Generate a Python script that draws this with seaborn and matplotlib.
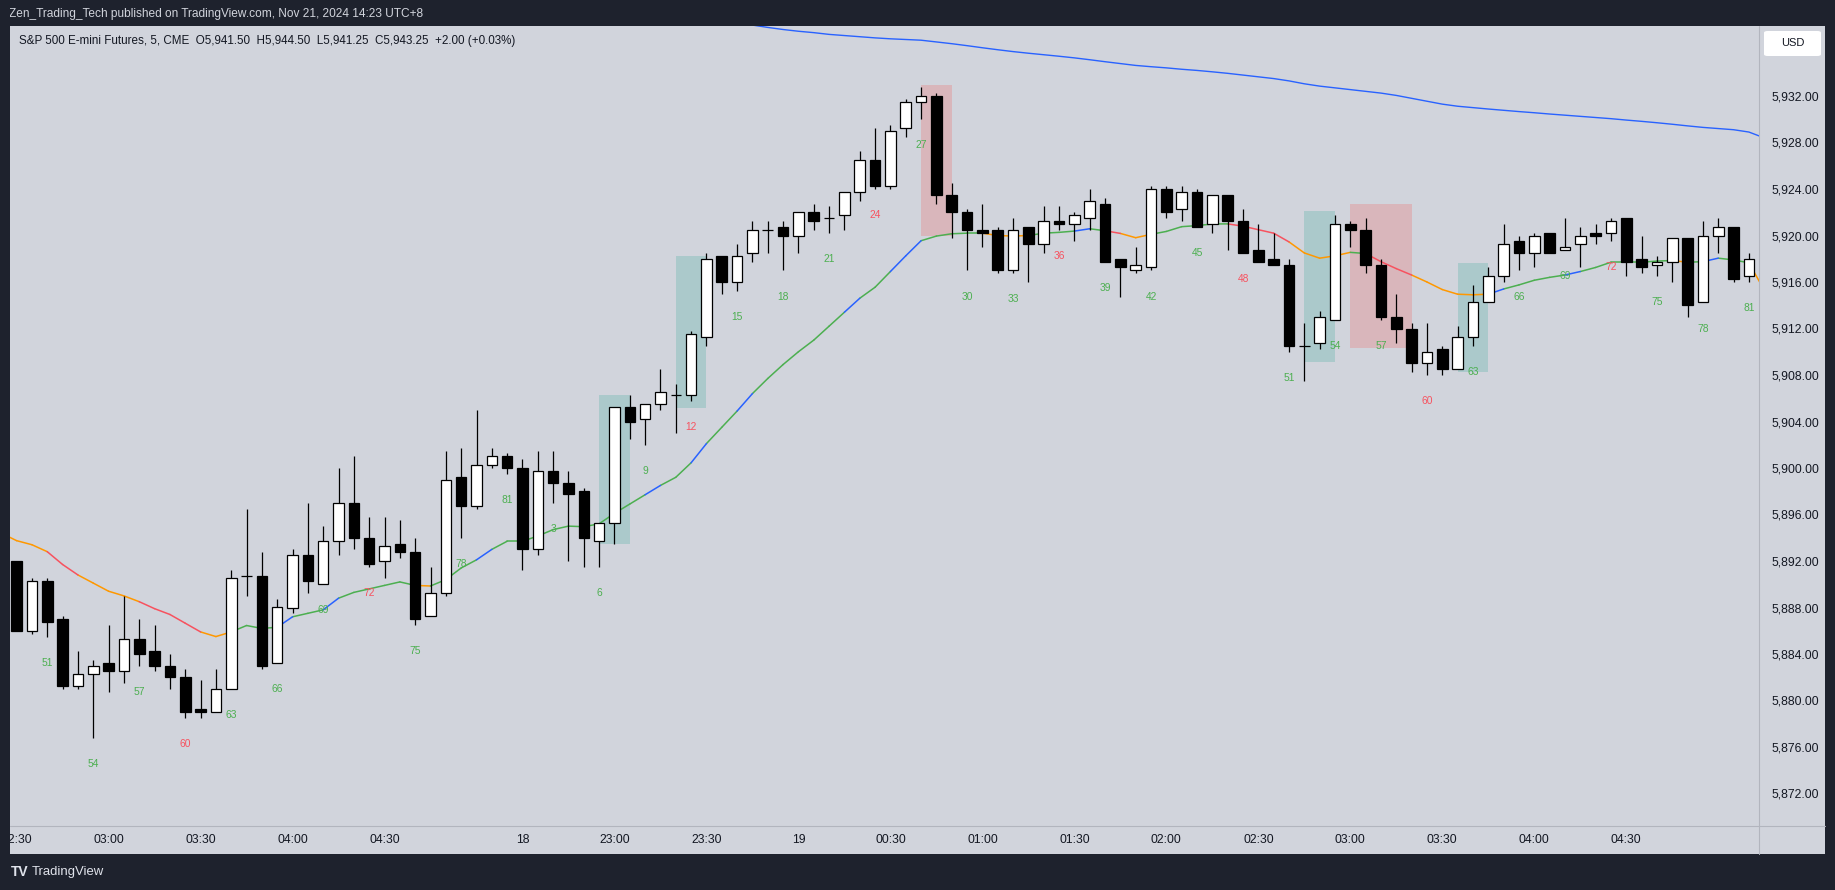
import matplotlib
matplotlib.use("Agg")
import matplotlib.pyplot as plt
from matplotlib.patches import Rectangle, FancyBboxPatch
from matplotlib.lines import Line2D
import numpy as np
import pandas as pd
import seaborn as sns

# ---------------- data ----------------
opens = [5892.0, 5886.0, 5890.25, 5887.0, 5881.25, 5882.25, 5883.25, 5882.5, 5885.25, 5884.25,
         5883.0, 5882.0, 5879.25, 5879.0, 5881.0, 5890.75, 5890.75, 5883.25, 5888.0, 5892.5,
         5890.0, 5893.75, 5897.0, 5894.0, 5892.0, 5893.5, 5892.75, 5887.25, 5889.25, 5899.25,
         5896.75, 5900.25, 5901.0, 5900.0, 5893.0, 5899.75, 5898.75, 5898.0, 5893.75, 5895.25,
         5905.25, 5904.25, 5905.5, 5906.25, 5906.25, 5911.25, 5918.25, 5916.0, 5918.5, 5920.5,
         5920.75, 5920.0, 5922.0, 5921.5, 5921.75, 5923.75, 5926.5, 5924.25, 5929.25, 5931.5,
         5932.0, 5923.5, 5922.0, 5920.5, 5920.5, 5917.0, 5920.75, 5919.25, 5921.25, 5921.0,
         5921.5, 5922.75, 5918.0, 5917.0, 5917.25, 5924.0, 5922.25, 5923.75, 5921.0, 5923.5,
         5921.25, 5918.75, 5918.0, 5917.5, 5910.5, 5910.75, 5912.75, 5921.0, 5920.5, 5917.5,
         5913.0, 5912.0, 5909.0, 5910.25, 5908.5, 5911.25, 5914.25, 5916.5, 5919.5, 5918.5,
         5920.25, 5918.75, 5919.25, 5920.25, 5920.25, 5921.5, 5918.0, 5917.5, 5917.75, 5919.75,
         5914.25, 5920.0, 5920.75, 5916.5]
highs = [5892.0, 5890.5, 5890.5, 5887.25, 5884.25, 5883.5, 5886.5, 5889.0, 5887.0, 5886.5,
         5884.0, 5882.75, 5881.75, 5882.75, 5891.25, 5896.5, 5892.75, 5888.75, 5893.0, 5897.0,
         5895.0, 5900.0, 5901.0, 5895.75, 5895.75, 5895.5, 5894.0, 5891.5, 5901.5, 5901.75,
         5905.0, 5901.75, 5901.25, 5900.75, 5901.5, 5901.5, 5899.75, 5898.25, 5895.25, 5905.25,
         5906.25, 5905.5, 5908.5, 5907.25, 5911.75, 5918.5, 5918.25, 5919.25, 5921.25, 5921.25,
         5921.25, 5922.0, 5922.75, 5922.5, 5923.75, 5927.25, 5929.25, 5929.5, 5931.75, 5932.75,
         5932.25, 5924.5, 5922.25, 5922.75, 5920.75, 5921.5, 5920.75, 5922.5, 5922.5, 5922.0,
         5924.0, 5923.25, 5918.0, 5919.0, 5924.25, 5924.25, 5924.25, 5924.0, 5923.5, 5923.5,
         5922.25, 5921.0, 5920.25, 5918.0, 5912.5, 5913.5, 5921.75, 5921.25, 5921.5, 5918.0,
         5915.0, 5912.5, 5912.5, 5910.5, 5912.25, 5915.75, 5917.25, 5921.0, 5920.0, 5920.25,
         5920.25, 5921.5, 5920.75, 5921.0, 5921.5, 5921.5, 5920.0, 5918.25, 5919.75, 5919.75,
         5921.25, 5921.5, 5920.75, 5918.5]
lows = [5886.0, 5885.75, 5885.5, 5881.0, 5881.0, 5876.75, 5880.75, 5881.5, 5883.0, 5882.5,
        5881.0, 5878.5, 5878.5, 5879.0, 5881.0, 5889.0, 5882.75, 5883.25, 5887.5, 5889.25,
        5890.0, 5892.5, 5893.0, 5891.5, 5890.5, 5892.25, 5886.5, 5887.25, 5889.0, 5894.0,
        5896.5, 5900.0, 5899.5, 5891.25, 5892.5, 5897.0, 5892.0, 5891.5, 5891.5, 5893.5,
        5902.5, 5902.0, 5905.0, 5903.0, 5905.75, 5910.5, 5915.0, 5915.25, 5917.75, 5918.5,
        5917.0, 5918.5, 5920.5, 5920.25, 5920.5, 5923.0, 5924.0, 5924.0, 5928.5, 5930.0,
        5922.75, 5919.75, 5917.0, 5919.0, 5916.75, 5916.75, 5916.0, 5918.5, 5920.5, 5919.5,
        5920.5, 5917.75, 5914.75, 5916.75, 5917.0, 5921.5, 5921.25, 5920.75, 5920.25, 5918.75,
        5918.5, 5917.75, 5917.5, 5910.0, 5907.5, 5910.25, 5912.75, 5919.0, 5916.75, 5912.75,
        5910.75, 5908.25, 5908.0, 5908.0, 5908.5, 5910.5, 5914.25, 5916.0, 5917.0, 5917.25,
        5918.5, 5918.75, 5917.25, 5919.25, 5919.5, 5916.5, 5916.75, 5916.5, 5916.0, 5913.0,
        5914.25, 5918.5, 5916.0, 5916.0]
closes = [5886.0, 5890.25, 5886.75, 5881.25, 5882.25, 5883.0, 5882.5, 5885.25, 5884.0, 5883.0,
          5882.0, 5879.0, 5879.0, 5881.0, 5890.5, 5890.75, 5883.0, 5888.0, 5892.5, 5890.25,
          5893.75, 5897.0, 5894.0, 5891.75, 5893.25, 5892.75, 5887.0, 5889.25, 5899.0, 5896.75,
          5900.25, 5901.0, 5900.0, 5893.0, 5899.75, 5898.75, 5897.75, 5894.0, 5895.25, 5905.25,
          5904.0, 5905.5, 5906.5, 5906.25, 5911.5, 5918.0, 5916.0, 5918.25, 5920.5, 5920.5,
          5920.0, 5922.0, 5921.25, 5921.5, 5923.75, 5926.5, 5924.25, 5929.0, 5931.5, 5932.0,
          5923.5, 5922.0, 5920.5, 5920.25, 5917.0, 5920.5, 5919.25, 5921.25, 5921.0, 5921.75,
          5923.0, 5917.75, 5917.25, 5917.5, 5924.0, 5922.0, 5923.75, 5920.75, 5923.5, 5921.25,
          5918.5, 5917.75, 5917.5, 5910.5, 5910.5, 5913.0, 5921.0, 5920.5, 5917.5, 5913.0,
          5912.0, 5909.0, 5910.0, 5908.5, 5911.25, 5914.25, 5916.5, 5919.25, 5918.5, 5920.0,
          5918.5, 5919.0, 5920.0, 5920.0, 5921.25, 5917.75, 5917.25, 5917.75, 5919.75, 5914.0,
          5920.0, 5920.75, 5916.25, 5918.0]

# short moving average, bars -1 .. 114
ema_values = [5894.4, 5893.75, 5893.4, 5892.8, 5891.7, 5890.8, 5890.1, 5889.4, 5889.0, 5888.5, 5887.9,
              5887.4, 5886.65, 5885.9, 5885.5, 5885.9, 5886.45, 5886.2, 5886.3, 5887.2, 5887.5,
              5887.8, 5888.8, 5889.3, 5889.6, 5889.9, 5890.2, 5889.9, 5889.85, 5890.4, 5891.4,
              5892.1, 5893.0, 5893.7, 5893.7, 5894.15, 5894.7, 5895.0, 5894.95, 5895.2, 5896.1,
              5896.9, 5897.7, 5898.5, 5899.2, 5900.45, 5902.1, 5903.5, 5904.9, 5906.4, 5907.7,
              5908.9, 5910.0, 5911.0, 5912.2, 5913.4, 5914.6, 5915.55, 5916.9, 5918.25, 5919.55,
              5919.95, 5920.15, 5920.2, 5920.2, 5920.0, 5919.95, 5920.0, 5920.2, 5920.27, 5920.38,
              5920.58, 5920.41, 5920.18, 5919.81, 5920.1, 5920.35, 5920.76, 5920.85, 5920.99, 5921.0,
              5920.8, 5920.5, 5920.2, 5919.45, 5918.5, 5918.05, 5918.25, 5918.55, 5918.45, 5917.75,
              5917.15, 5916.6, 5916.0, 5915.35, 5914.95, 5914.9, 5914.95, 5915.4, 5915.75, 5916.15,
              5916.4, 5916.6, 5916.9, 5917.25, 5917.7, 5917.7, 5917.7, 5917.8, 5917.85, 5917.7,
              5917.75, 5918.05, 5917.9, 5917.65, 5915.3]
# colour state of each segment ending at bars 0 .. 114
ema_state = ("OOO" "RR" "OOOO" "RRRR" "OO" "GGG" "B" "GG" "B" "GGGGG" "O" "GGG" "B"
             "GGGGGGGGGG" "B" "GG" "B" "GG" "B" "GGGGGG" "B" "GG" "BB" "GGGG" "OOO" "GGG"
             "B" "G" "R" "OO" "GGGGG" "RRRR" "OOOO" "G" "RRR" "OOOOO" "B" "GGGG" "B"
             "GGGGGG" "O" "G" "B" "GG" "O")

# long moving average (blue), bars 47 .. 114
ma_values = [5938.35, 5938.1, 5937.9, 5937.72, 5937.57, 5937.45, 5937.3, 5937.2, 5937.1, 5937.0, 5936.92,
             5936.86, 5936.8, 5936.65, 5936.5, 5936.33, 5936.15, 5935.98, 5935.82, 5935.68, 5935.55,
             5935.42, 5935.28, 5935.12, 5934.95, 5934.79, 5934.63, 5934.52, 5934.42, 5934.3, 5934.2,
             5934.08, 5933.95, 5933.8, 5933.65, 5933.5, 5933.3, 5933.05, 5932.85, 5932.7, 5932.55,
             5932.4, 5932.25, 5932.05, 5931.8, 5931.55, 5931.3, 5931.12, 5931.0, 5930.88, 5930.77,
             5930.66, 5930.56, 5930.45, 5930.35, 5930.25, 5930.15, 5930.05, 5929.93, 5929.82, 5929.7,
             5929.57, 5929.43, 5929.3, 5929.2, 5929.1, 5928.9, 5928.4]

# bar-count labels
label_bars = list(range(2, 114, 3))
label_text = ["51", "54", "57", "60", "63", "66", "69", "72", "75", "78", "81",
              "3", "6", "9", "12", "15", "18", "21", "24", "27", "30", "33", "36", "39",
              "42", "45", "48", "51", "54", "57", "60", "63", "66", "69", "72", "75", "78", "81"]
label_state = "GGGRGGGRGGG" "GGGRGGGRGGGRGGGRGGGRGGGRGGG"

# shaded zones
box_start = [38, 43, 59, 84, 87, 94]
box_end = [40, 45, 61, 86, 91, 96]
box_top = [5906.25, 5918.2, 5932.95, 5922.1, 5922.7, 5917.6]
box_bottom = [5893.5, 5905.2, 5920.0, 5909.1, 5910.3, 5908.25]
box_state = "GGRGRG"

tick_bars = [0, 6, 12, 18, 24, 33, 39, 45, 51, 57, 63, 69, 75, 81, 87, 93, 99, 105]
tick_text = ["02:30", "03:00", "03:30", "04:00", "04:30", "18", "23:00", "23:30", "19",
             "00:30", "01:00", "01:30", "02:00", "02:30", "03:00", "03:30", "04:00", "04:30"]
price_ticks = [5872, 5876, 5880, 5884, 5888, 5892, 5896, 5900, 5904, 5908,
               5912, 5916, 5920, 5924, 5928, 5932]

header_text = "Zen_Trading_Tech published on TradingView.com, Nov 21, 2024 14:23 UTC+8"
legend_text = "S&P 500 E-mini Futures, 5, CME  O5,941.50  H5,944.50  L5,941.25  C5,943.25  +2.00 (+0.03%)"

# ---------------- style ----------------
DARK = "#1e222d"
LIGHT = "#d1d4dc"
TEXT = "#131722"
ema_palette = {"O": "#ff9800", "R": "#f7525f", "G": "#4caf50", "B": "#2962ff"}
label_colors = {"G": "#4caf50", "R": "#f7525f"}
box_colors = {"G": "#abc9cb", "R": "#d9b6bb"}

sns.set_style("white")
plt.rcParams["font.family"] = ["Liberation Sans", "DejaVu Sans"]

W, H = 1835, 890
fig = plt.figure(figsize=(W / 100, H / 100), dpi=100, facecolor=DARK)

def fx(px):
    return px / W

def fy(py):
    return 1 - py / H

fig.add_artist(Rectangle((fx(10), fy(854)), fx(1815), 828 / H, transform=fig.transFigure,
                         facecolor=LIGHT, edgecolor="none", zorder=-5))

AX_L, AX_R, AX_T, AX_B = 10, 1759, 26, 826
ax = fig.add_axes([fx(AX_L), fy(AX_B), (AX_R - AX_L) / W, (AX_B - AX_T) / H])
ax.set_facecolor(LIGHT)

# scales: bar i at pixel 16.6 + 15.33 i ; 11.625 px per point, 5932 at y=96
x_lo = (AX_L - 16.6) / 15.33
x_hi = (AX_R - 16.6) / 15.33
y_hi = 5932 + (96 - AX_T) / 11.625
y_lo = 5932 - (AX_B - 96) / 11.625

# zones
for s, e, t, b, st in zip(box_start, box_end, box_top, box_bottom, box_state):
    ax.add_patch(Rectangle((s, b), e - s, t - b, facecolor=box_colors[st], edgecolor="none", zorder=1))

# short MA as coloured segments
rows = []
for k in range(min(len(ema_values) - 1, len(ema_state))):
    rows.append((k, k - 1, ema_values[k], ema_state[k]))
    rows.append((k, k, ema_values[k + 1], ema_state[k]))
seg_df = pd.DataFrame(rows, columns=["seg", "x", "y", "state"])
sns.lineplot(data=seg_df, x="x", y="y", hue="state", units="seg", estimator=None,
             palette=ema_palette, legend=False, linewidth=1.1, sort=False, ax=ax, zorder=2)

# long MA
ma_x = list(range(47, 47 + len(ma_values)))
sns.lineplot(x=ma_x, y=ma_values, color="#2962ff", linewidth=1.0, estimator=None,
             sort=False, ax=ax, zorder=2)

# candles
o = np.array(opens); h = np.array(highs); l = np.array(lows); c = np.array(closes)
xs = np.arange(len(o))
up = c >= o
ax.vlines(xs, l, h, color="black", linewidth=0.9, zorder=3)
ax.bar(xs, np.abs(c - o), bottom=np.minimum(o, c), width=0.69,
       color=np.where(up, "white", "black"), edgecolor="black", linewidth=0.9, zorder=4)

# bar-count labels
for b, t, st in zip(label_bars, label_text, label_state):
    ax.text(b, lows[b] - 2.25, t, ha="center", va="center", fontsize=7.4,
            color=label_colors[st], zorder=5)

ax.set_xlim(x_lo, x_hi)
ax.set_ylim(y_lo, y_hi)
ax.set_xlabel("")
ax.set_ylabel("")
ax.grid(False)
for sp in ax.spines.values():
    sp.set_visible(False)

ax.set_xticks(tick_bars)
ax.set_xticklabels(tick_text)
ax.tick_params(axis="x", length=0, pad=5.5, labelsize=8.7, labelcolor=TEXT)
ax.yaxis.tick_right()
ax.set_yticks(price_ticks)
ax.set_yticklabels([f"{v:,.2f}" for v in price_ticks])
ax.tick_params(axis="y", length=0, pad=9, labelsize=8.8, labelcolor=TEXT)

# separators
fig.add_artist(Line2D([fx(AX_R), fx(AX_R)], [fy(26), fy(854)], transform=fig.transFigure,
                      color="#b2b5be", linewidth=0.8, zorder=6))
fig.add_artist(Line2D([fx(10), fx(1825)], [fy(AX_B), fy(AX_B)], transform=fig.transFigure,
                      color="#b2b5be", linewidth=0.8, zorder=6))
# left dark border (crops first time label)
fig.add_artist(Rectangle((0, 0), fx(10), 1, transform=fig.transFigure,
                         facecolor=DARK, edgecolor="none", zorder=10))

# USD box
fig.add_artist(FancyBboxPatch((fx(1764), fy(56)), fx(57), 25 / H,
                              boxstyle="round,pad=0,rounding_size=0.002",
                              transform=fig.transFigure, facecolor="white",
                              edgecolor="none", zorder=7))
fig.text(fx(1792.5), fy(43.5), "USD", ha="center", va="center", fontsize=8, color=TEXT, zorder=8)

# header, legend, logo
t_head = fig.text(fx(9), fy(14.5), header_text, ha="left", va="center", fontsize=8.5, color="#d1d4dc")
t_leg = fig.text(fx(19), fy(41), legend_text, ha="left", va="center", fontsize=8.5, color=TEXT, zorder=8)
t_logo = fig.text(fx(11), fy(872.5), "TV", ha="left", va="center", fontsize=10,
                  fontweight="bold", color="#e0e3eb")
t_brand = fig.text(fx(32), fy(872.5), "TradingView", ha="left", va="center", fontsize=9.3, color="#e0e3eb")

fig.canvas.draw()
for t, target in [(t_head, 412), (t_leg, 498), (t_brand, 72)]:
    w = t.get_window_extent().width
    if w > 0:
        t.set_fontsize(t.get_fontsize() * target / w)

fig.savefig("out.png", dpi=100, facecolor=DARK)
